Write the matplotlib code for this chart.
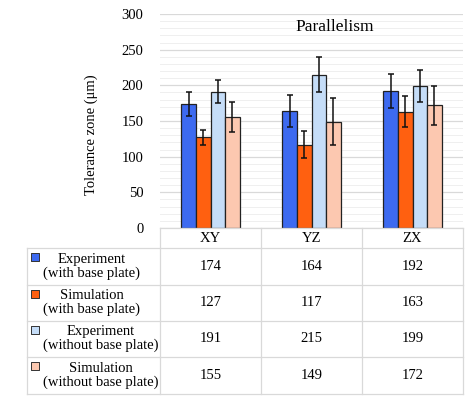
import numpy as np
import matplotlib.pyplot as plt

plt.rcParams['font.family'] = ['Liberation Serif', 'DejaVu Serif']

categories = ["XY", "YZ", "ZX"]
series_names = ["Experiment\n(with base plate)", "Simulation\n(with base plate)",
                "Experiment\n(without base plate)", "Simulation\n(without base plate)"]
exp_with = [174, 164, 192]
sim_with = [127, 117, 163]
exp_without = [191, 215, 199]
sim_without = [155, 149, 172]
err_exp_with = [17, 22, 24]
err_sim_with = [11, 19, 22]
err_exp_without = [16, 25, 23]
err_sim_without = [21, 33, 27]

values = [exp_with, sim_with, exp_without, sim_without]
errors = [err_exp_with, err_sim_with, err_exp_without, err_sim_without]
colors = ["#3D6AF0", "#FF6010", "#C5DDF8", "#FCC8B0"]

W, H = 474, 399
fig = plt.figure(figsize=(W / 100, H / 100), dpi=100)

def px_rect(x0, y0, x1, y1):
    return [x0 / W, 1 - y1 / H, (x1 - x0) / W, (y1 - y0) / H]

ax = fig.add_axes(px_rect(160, 14, 463, 228))
x = np.arange(len(categories))
bw = 0.144
for i, (vals, errs, c) in enumerate(zip(values, errors, colors)):
    ax.bar(x + (i - 1.5) * bw, vals, bw, color=c, edgecolor="#222222", linewidth=0.9,
           yerr=errs, capsize=2.5, error_kw=dict(elinewidth=1.1, capthick=1.1, ecolor="#111111"), zorder=3)

ax.set_xlim(-0.5, 2.5)
ax.set_ylim(0, 300)
ax.set_yticks(np.arange(0, 301, 50))
ax.set_yticks(np.arange(0, 301, 10), minor=True)
ax.tick_params(axis='y', which='both', length=0, pad=12, labelsize=10.5)
ax.set_xticks([])
ax.grid(axis='y', which='major', color="#D9D9D9", linewidth=0.9, zorder=0)
ax.grid(axis='y', which='minor', color="#EFEFEF", linewidth=0.7, zorder=0)
for s in ax.spines.values():
    s.set_visible(False)
ax.set_ylabel("Tolerance zone (μm)", fontsize=10.5)
ax.yaxis.set_label_coords(-0.205, 0.435)
ax.text(0.578, 0.94, "Parallelism", transform=ax.transAxes, ha='center', va='center', fontsize=12.5)

# table below the chart
tx = fig.add_axes(px_rect(27, 228, 463, 394))
left = -0.5 - 133 / 101
tx.set_xlim(left, 2.5)
row_edges = [0, 20, 56.5, 93, 129, 166]
tx.set_ylim(166, 0)
tx.axis('off')
gc = "#D9D9D9"
for cx in [-0.5, 0.5, 1.5, 2.5]:
    tx.plot([cx, cx], [0, 166], color=gc, lw=0.9, clip_on=False)
tx.plot([left, left], [20, 166], color=gc, lw=0.9, clip_on=False)
tx.plot([-0.5, 2.5], [0, 0], color=gc, lw=0.9, clip_on=False)
for ry in row_edges[1:]:
    tx.plot([left, 2.5], [ry, ry], color=gc, lw=0.9, clip_on=False)
for j, cat in enumerate(categories):
    tx.text(j, 10.5, cat, ha='center', va='center', fontsize=10.5)
for i, (name, vals, c) in enumerate(zip(series_names, values, colors)):
    top, bot = row_edges[i + 1], row_edges[i + 2]
    mid = (top + bot) / 2
    tx.scatter([left + 8 / 101], [top + 9], marker='s', s=28, color=c, edgecolor="#333333",
               linewidth=0.7, clip_on=False)
    tx.text(left + 16 / 101, mid, name, ha='left', va='center', multialignment='center',
            fontsize=10.5, linespacing=1.05)
    for j, v in enumerate(vals):
        tx.text(j, mid, str(v), ha='center', va='center', fontsize=10.5)

fig.savefig("out.png", dpi=100)
